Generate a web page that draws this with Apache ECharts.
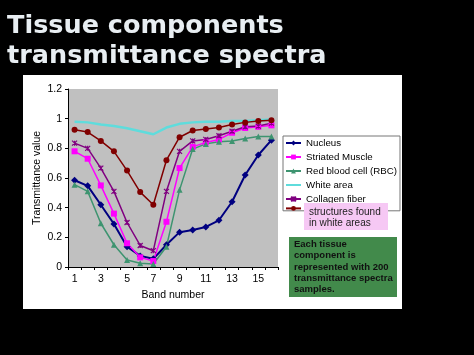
<!DOCTYPE html>
<html><head><meta charset="utf-8">
<script src="https://cdn.jsdelivr.net/npm/echarts@6/dist/echarts.min.js"></script>
<style>html,body{margin:0;padding:0;background:#000;}#c{width:474px;height:355px;}</style>
</head><body><div id="c"></div>
<script>
const bands = ['1','2','3','4','5','6','7','8','9','10','11','12','13','14','15','16'];
const nucleus = [0.585,0.547,0.42,0.29,0.137,0.075,0.055,0.15,0.235,0.25,0.27,0.315,0.44,0.62,0.755,0.855];
const striatedMuscle = [0.78,0.73,0.55,0.36,0.16,0.065,0.04,0.305,0.667,0.81,0.84,0.86,0.905,0.937,0.945,0.955];
const redBloodCell = [0.555,0.51,0.295,0.15,0.047,0.025,0.02,0.137,0.52,0.795,0.83,0.845,0.85,0.867,0.88,0.88];
const whiteArea = [0.98,0.975,0.96,0.95,0.935,0.915,0.895,0.94,0.965,0.975,0.98,0.98,0.985,0.985,0.99,0.995];
const collagenFiber = [0.835,0.80,0.667,0.51,0.30,0.145,0.11,0.51,0.78,0.85,0.86,0.885,0.915,0.945,0.95,0.97];
const structuresWhite = [0.925,0.91,0.85,0.78,0.65,0.505,0.42,0.72,0.875,0.92,0.93,0.94,0.96,0.975,0.985,0.99];
const yTicks = [0,0.2,0.4,0.6,0.8,1,1.2];

const xPath = 'path://M0,0L10,10M10,0L0,10M5,0L5,10';
function ser(name, data, color, symbol, size, width){
  return {name, type:'line', data, symbol, symbolSize:size, showSymbol: symbol!=='none',
    lineStyle:{color, width}, itemStyle:{color, borderColor:color, borderWidth: symbol===xPath?1.2:0}, color};
}
const titleFont = 'bold 25.5px "DejaVu Sans"';
const chart = echarts.init(document.getElementById('c'));
chart.setOption({
  backgroundColor:'#000',
  animation:false,
  graphic:[
    {type:'rect', z:-10, shape:{x:23,y:75,width:379,height:234}, style:{fill:'#fff'}},
    {type:'text', left:7, top:13, style:{text:'Tissue components', fill:'#e8eef2', font:titleFont}},
    {type:'text', left:7, top:43, style:{text:'transmittance spectra', fill:'#e8eef2', font:titleFont}},
    {type:'rect', z:100, shape:{x:304,y:203,width:84,height:27}, style:{fill:'#f6c8f4'}},
    {type:'text', z:101, left:309, top:206, style:{text:'structures found\nin white areas', fill:'#222', font:'10px "Liberation Sans"', lineHeight:11.5}},
    {type:'rect', z:100, shape:{x:289,y:237,width:108,height:60}, style:{fill:'#428a4b'}},
    {type:'text', z:101, left:294, top:239, style:{text:'Each tissue\ncomponent is\nrepresented with 200\ntransmittance spectra\nsamples.', fill:'#111', font:'bold 9.5px "Liberation Sans"', lineHeight:11.2}}
  ],
  grid:{left:68, top:89, width:210, height:178, show:true, backgroundColor:'#c0c0c0', borderWidth:0},
  legend:{orient:'vertical', left:283, top:136, padding:[0,3,0,2], itemGap:0, itemWidth:15, itemHeight:6,
    borderColor:'#777', borderWidth:1, backgroundColor:'#fff',
    textStyle:{fontFamily:'Liberation Sans', fontSize:9.7, color:'#000', lineHeight:14},
    formatter: n => n==='structures found in white areas' ? '' : n,
    data:['Nucleus','Striated Muscle','Red blood cell (RBC)',{name:'White area', itemStyle:{opacity:0}},'Collagen fiber','structures found in white areas']},
  xAxis:{type:'category', data:bands, boundaryGap:true,
    name:'Band number', nameLocation:'middle', nameGap:23,
    nameTextStyle:{fontFamily:'Liberation Sans', fontSize:10.5, color:'#000'},
    axisLine:{lineStyle:{color:'#000', width:1}},
    axisTick:{show:true, interval:0, length:3, inside:false, lineStyle:{color:'#000'}},
    axisLabel:{interval:1, margin:7, fontFamily:'Liberation Sans', fontSize:10.5, color:'#000'},
    splitLine:{show:false}},
  yAxis:{type:'value', min:yTicks[0], max:yTicks[yTicks.length-1], interval:0.2,
    name:'Transmittance value', nameLocation:'middle', nameGap:25, nameRotate:90,
    nameTextStyle:{fontFamily:'Liberation Sans', fontSize:10.5, color:'#000'},
    axisLine:{show:true, lineStyle:{color:'#000', width:1}},
    axisTick:{show:true, length:3, lineStyle:{color:'#000'}},
    axisLabel:{margin:6, fontFamily:'Liberation Sans', fontSize:10.5, color:'#000'},
    splitLine:{show:false}},
  series:[
    ser('Nucleus', nucleus, '#000080', 'diamond', 7, 2),
    ser('Striated Muscle', striatedMuscle, '#ff00ff', 'rect', 6, 1.5),
    ser('Red blood cell (RBC)', redBloodCell, '#3e9470', 'triangle', 6, 1.5),
    ser('White area', whiteArea, '#5fdcdc', 'none', 0, 2.5),
    ser('Collagen fiber', collagenFiber, '#800080', xPath, 5, 1.5),
    ser('structures found in white areas', structuresWhite, '#800000', 'circle', 6, 1.5)
  ]
});
</script></body></html>
